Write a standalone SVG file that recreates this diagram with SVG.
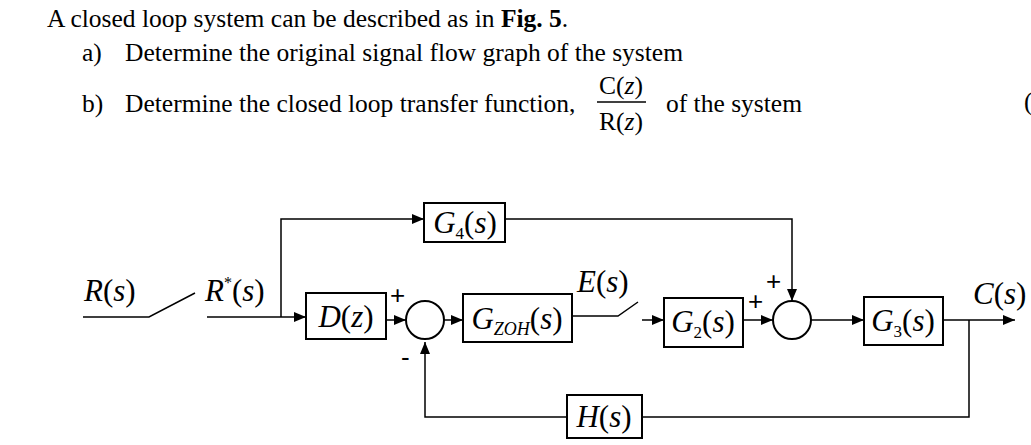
<svg xmlns="http://www.w3.org/2000/svg" width="1031" height="445" viewBox="0 0 1031 445">
<style>
text{font-family:"Liberation Serif","Times New Roman",serif;fill:#000}
.t{font-family:"Liberation Serif","Times New Roman",serif;font-size:25.5px}
.m{font-family:"Liberation Serif","Times New Roman",serif;font-size:31px;font-style:italic}
.s{font-family:"Liberation Sans",sans-serif;font-size:26px}
.b{fill:#fff;stroke:#000;stroke-width:2}
.l{fill:none;stroke:#000;stroke-width:1.5}
</style>
<defs><marker id="a" markerWidth="12" markerHeight="10" refX="12" refY="5" orient="auto" markerUnits="userSpaceOnUse"><path d="M0,0L12,5L0,10z"/></marker></defs>
<g id="text">
<text class="t" x="47" y="27">A closed loop system can be described as in <tspan font-weight="bold">Fig. 5</tspan>.</text>
<text class="t" x="82" y="61">a)<tspan x="125">Determine the original signal flow graph of the system</tspan></text>
<text class="t" x="82" y="112">b)<tspan x="125">Determine the closed loop transfer function,</tspan></text>
<text class="t" x="621" y="94" text-anchor="middle">C(<tspan font-style="italic">z</tspan>)</text>
<line x1="597" y1="102" x2="646" y2="102" stroke="#000" stroke-width="1.3"/>
<text class="t" x="621" y="130" text-anchor="middle">R(<tspan font-style="italic">z</tspan>)</text>
<text class="t" x="666" y="112">of the system</text>
<text class="t" x="1024" y="110">(</text>
</g>
<g id="connectors">
<path class="l" d="M83,317H149L195,293" stroke-width="2"/>
<path class="l" d="M207,317H306" marker-end="url(#a)"/>
<path class="l" d="M281,317V219H424" marker-end="url(#a)"/>
<path class="l" d="M386,320H406" marker-end="url(#a)"/>
<path class="l" d="M444,320H463" marker-end="url(#a)"/>
<path class="l" d="M572,316H618L638,302" stroke-width="2"/>
<path class="l" d="M642,320H664" marker-end="url(#a)"/>
<path class="l" d="M743,320H773" marker-end="url(#a)"/>
<path class="l" d="M505,219H792V301" marker-end="url(#a)"/>
<path class="l" d="M811,320H864" marker-end="url(#a)"/>
<path class="l" d="M943,320H1015" marker-end="url(#a)"/>
<path class="l" d="M969,320V417H642"/>
<path class="l" d="M567,417H425V342" marker-end="url(#a)"/>
</g>
<g id="labels">
<text class="m" x="84" y="301">R<tspan font-style="normal">(</tspan>s<tspan font-style="normal">)</tspan></text>
<text class="m" x="205" y="301">R<tspan font-size="16" font-style="normal" dy="-13">*</tspan><tspan font-style="normal" dy="13">(</tspan>s<tspan font-style="normal">)</tspan></text>
<text class="m" x="577" y="292">E<tspan font-style="normal">(</tspan>s<tspan font-style="normal">)</tspan></text>
<text class="m" x="973" y="304">C<tspan font-style="normal">(</tspan>s<tspan font-style="normal">)</tspan></text>
<text class="s" x="390" y="304">+</text>
<text class="s" x="401" y="366">-</text>
<text class="s" x="748" y="310">+</text>
<text class="s" x="766" y="290">+</text>
</g>
<g id="G4"><rect class="b" x="424" y="203" width="81" height="39"/><text class="m" x="465" y="233" text-anchor="middle">G<tspan font-size="17" font-style="normal" dy="6">4</tspan><tspan font-style="normal" dy="-6">(</tspan>s<tspan font-style="normal">)</tspan></text></g>
<g id="D"><rect class="b" x="306" y="293" width="80" height="46"/><text class="m" x="346" y="327" text-anchor="middle">D<tspan font-style="normal">(</tspan>z<tspan font-style="normal">)</tspan></text></g>
<g id="sum1"><circle class="b" cx="425" cy="320" r="19"/></g>
<g id="GZOH"><rect class="b" x="463" y="294" width="109" height="48"/><text class="m" x="517" y="329" text-anchor="middle">G<tspan font-size="18" dy="6">ZOH</tspan><tspan font-style="normal" dy="-6">(</tspan>s<tspan font-style="normal">)</tspan></text></g>
<g id="G2"><rect class="b" x="664" y="298" width="79" height="49"/><text class="m" x="703" y="332" text-anchor="middle">G<tspan font-size="17" font-style="normal" dy="6">2</tspan><tspan font-style="normal" dy="-6">(</tspan>s<tspan font-style="normal">)</tspan></text></g>
<g id="sum2"><circle class="b" cx="792" cy="320" r="19"/></g>
<g id="G3"><rect class="b" x="864" y="297" width="79" height="48"/><text class="m" x="903" y="331" text-anchor="middle">G<tspan font-size="17" font-style="normal" dy="6">3</tspan><tspan font-style="normal" dy="-6">(</tspan>s<tspan font-style="normal">)</tspan></text></g>
<g id="H"><rect class="b" x="567" y="395" width="75" height="43"/><text class="m" x="604" y="427" text-anchor="middle">H<tspan font-style="normal">(</tspan>s<tspan font-style="normal">)</tspan></text></g>
</svg>
